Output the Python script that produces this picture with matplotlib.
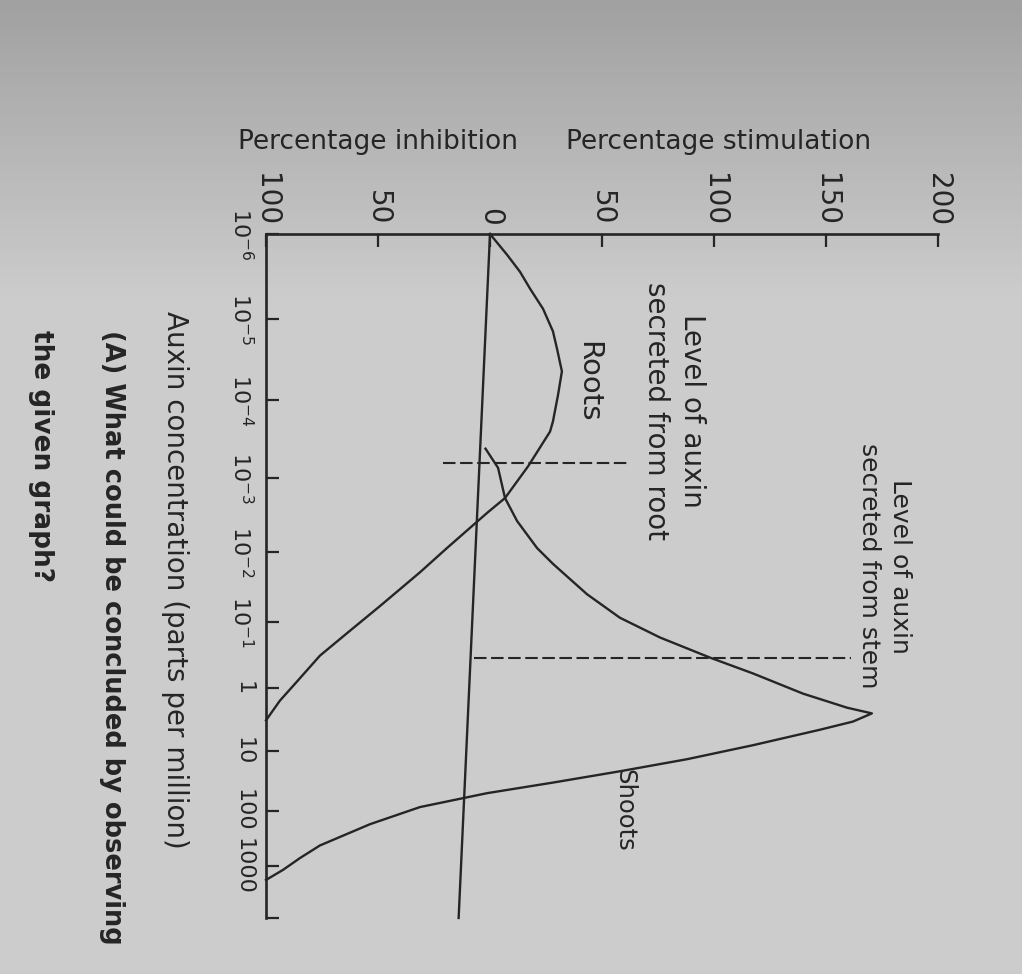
import numpy as np
import matplotlib
matplotlib.use("Agg")
import matplotlib.pyplot as plt
from matplotlib.ticker import NullLocator

# auxin response curves: concentration as log10(ppm), response in percent
# (positive = stimulation, negative = inhibition)
root_logc = [-6.0, -5.76, -5.56, -5.36, -5.12, -4.85, -4.64, -4.36, -4.07, -3.73,
             -3.60, -3.15, -2.73, -2.53, -2.05, -1.71, -1.23, -0.87, -0.50, -0.07,
             0.19, 0.50]
root_pct = [0, 7.6, 13.4, 17.9, 23.7, 28.1, 29.9, 32.1, 30.4, 28.1,
            26.8, 17.0, 6.7, -1.3, -19.2, -31.3, -49.1, -62.5, -75.9, -87.1,
            -93.8, -100]

shoot_logc = [-3.38, -3.13, -2.73, -2.42, -2.05, -1.83, -1.40, -1.06, -0.77, -0.47,
              -0.23, 0.08, 0.30, 0.39, 0.52, 0.65, 0.90, 1.13, 1.33, 1.52,
              1.70, 1.94, 2.24, 2.62, 2.85, 3.07, 3.26]
shoot_pct = [-2, 3.6, 6.7, 12.1, 21.0, 28.1, 43.3, 58.0, 75.9, 98.2,
             117.4, 139.7, 159.4, 170.5, 162, 147.3, 117.4, 87.9, 58.0, 28.1,
             -1.3, -31.3, -53.6, -75.9, -84.8, -92.4, -100]

# reference (no effect) line
zero_logc = [-6.0, 4.0]
zero_pct = [0, -14]

# auxin levels secreted by root and stem
root_level_logc = -3.19
root_level_span = [-21, 62]
stem_level_logc = -0.47
stem_level_span = [-7, 161]

pct_ticks = [-100, -50, 0, 50, 100, 150, 200]
pct_labels = ["100", "50", "0", "50", "100", "150", "200"]
conc_exp = [-6, -5, -4, -3, -2, -1, 0, 1, 2, 3, 4]
conc_labels = [r"$10^{-6}$", r"$10^{-5}$", r"$10^{-4}$", r"$10^{-3}$", r"$10^{-2}$",
               r"$10^{-1}$", "1", "10", "100", "1000", ""]

INK = "#252525"
DECADE = 87.0   # length of the first decade
SHRINK = 1.84   # decades get a little tighter toward high concentrations


def conc_fwd(c):
    d = np.log10(np.clip(c, 1e-20, None)) + 6.0
    return DECADE * d - SHRINK * d ** 2


def conc_inv(f):
    disc = np.clip(DECADE ** 2 - 4 * SHRINK * f, 0, None)
    d = (DECADE - np.sqrt(disc)) / (2 * SHRINK)
    return 10.0 ** (d - 6.0)


plt.rcParams["font.family"] = "DejaVu Sans"
plt.rcParams["mathtext.fontset"] = "dejavusans"
plt.rcParams["text.color"] = INK

W, H = 1022, 974
fig = plt.figure(figsize=(W / 100, H / 100), dpi=100)

# page tone behind the figure
bg = fig.add_axes([0, 0, 1, 1], zorder=-10)
rows = np.linspace(0, 1, 200)
tone = np.clip(0.63 + 0.55 * rows, 0, 0.80)
bg.imshow(np.tile(tone[:, None], (1, 10)), cmap="gray", vmin=0, vmax=1,
          aspect="auto", extent=[0, 1, 0, 1], origin="upper")
bg.axis("off")

ax = fig.add_axes([266 / W, 56 / H, 672 / W, 684 / H])
ax.patch.set_alpha(0)
ax.set_yscale("function", functions=(conc_fwd, conc_inv))
ax.set_xlim(-100, 200)
ax.set_ylim(1e4, 1e-6)

lw = 1.7
ax.plot(zero_pct, 10.0 ** np.array(zero_logc), color=INK, lw=lw, clip_on=False)
ax.plot(root_pct, 10.0 ** np.array(root_logc), color=INK, lw=lw, clip_on=False)
ax.plot(shoot_pct, 10.0 ** np.array(shoot_logc), color=INK, lw=lw, clip_on=False)
ax.plot(root_level_span, [10.0 ** root_level_logc] * 2, color=INK, lw=1.5,
        dashes=(6, 2.2))
ax.plot(stem_level_span, [10.0 ** stem_level_logc] * 2, color=INK, lw=1.5,
        dashes=(6, 2.2))

for side in ["right", "bottom"]:
    ax.spines[side].set_visible(False)
for side in ["left", "top"]:
    ax.spines[side].set_color(INK)
    ax.spines[side].set_linewidth(1.9)

ax.xaxis.tick_top()
ax.set_xticks(pct_ticks)
ax.set_xticklabels(pct_labels, rotation=-90, fontsize=20)
ax.set_yticks([10.0 ** e for e in conc_exp])
ax.set_yticklabels(conc_labels, rotation=-90, fontsize=16, va="center")
ax.yaxis.set_minor_locator(NullLocator())
ax.tick_params(axis="both", direction="in", length=9, width=1.6, colors=INK)
ax.tick_params(axis="x", pad=6)
ax.tick_params(axis="y", pad=9)

ax.text(44, 10 ** -4.23, "Roots", rotation=-90, ha="center", va="center", fontsize=21)
ax.text(82, 10 ** -3.86, "Level of auxin\nsecreted from root", rotation=-90,
        ha="center", va="center", multialignment="center", fontsize=20,
        linespacing=1.35)
ax.text(176, 10 ** -1.80, "Level of auxin\nsecreted from stem", rotation=-90,
        ha="center", va="center", multialignment="center", fontsize=18,
        linespacing=1.35)
ax.text(60, 10 ** 2.0, "Shoots", rotation=-90, ha="center", va="center", fontsize=17.5)

fig.text(378 / W, 1 - 142 / H, "Percentage inhibition", ha="center", va="center",
         fontsize=19)
fig.text(719 / W, 1 - 142 / H, "Percentage stimulation", ha="center", va="center",
         fontsize=19)
fig.text(175 / W, 1 - 580 / H, "Auxin concentration (parts per million)",
         rotation=-90, ha="center", va="center", fontsize=20)

fig.text(112 / W, 1 - 330 / H, "(A) What could be concluded by observing",
         rotation=-90, ha="center", va="top", fontsize=18.5, fontweight="bold")
fig.text(41 / W, 1 - 330 / H, "the given graph?",
         rotation=-90, ha="center", va="top", fontsize=19, fontweight="bold")

fig.savefig("out.png", dpi=100)
